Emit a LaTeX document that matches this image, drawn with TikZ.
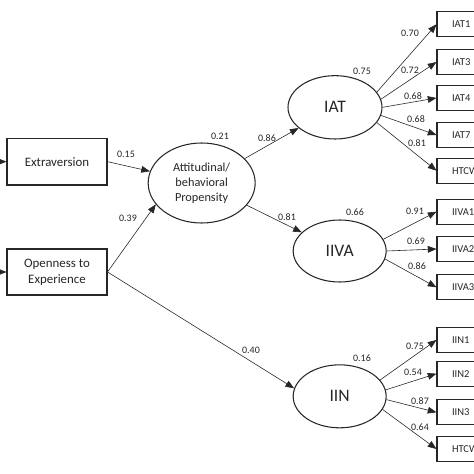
\documentclass[tikz,border=0pt]{standalone}
\usepackage{fontspec}
\setmainfont{Carlito}
\usetikzlibrary{arrows.meta, shapes.geometric}

\begin{document}
\begin{tikzpicture}[line width=0.5pt, color=black!85,
    obs/.style={draw, line width=0.9pt, rectangle, minimum width=3cm, minimum height=1.4cm, align=center, font=\fontsize{11}{13.5}\selectfont},
    ind/.style={draw, line width=0.9pt, rectangle, text width=1.6cm, inner xsep=0.45cm, align=left, minimum height=0.75cm, font=\fontsize{9}{11}\selectfont},
    lat/.style={draw, line width=0.9pt, ellipse, minimum width=2.82cm, minimum height=1.9cm, font=\fontsize{15}{18}\selectfont},
    lbl/.style={font=\fontsize{8.5}{10}\selectfont},
    pth/.style={-{Triangle[length=2.6mm,width=2mm]}}]
    \useasboundingbox (0,0) rectangle (14.22,14.22);

    % Left side - observed predictors
    \node[obs] (extra) at (1.71, 9.37) {Extraversion};
    \node[obs, minimum height=1.38cm] (open) at (1.71, 6.06) {Openness to\\Experience};
    \coordinate (inE) at (-0.5, 9.37);
    \coordinate (inO) at (-0.5, 6.06);
    \draw[pth] (inE) -- (extra);
    \draw[pth] (inO) -- (open);

    % Mediator
    \node[lat, minimum width=3.21cm, minimum height=2.4cm, align=center, font=\fontsize{10.5}{13}\selectfont] (atti) at (6.05, 8.73) {Attitudinal/\\behavioral\\Propensity};

    % Latent outcomes
    \node[lat] (iat) at (10.05, 11.0) {IAT};
    \node[lat, minimum width=2.79cm, minimum height=1.86cm] (iiva) at (10.19, 6.69) {IIVA};
    \node[lat, minimum width=2.79cm, minimum height=1.89cm] (iin) at (10.19, 2.33) {IIN};

    % Indicators (cut by the right edge)
    \node[ind] (iat1) at (14.36, 13.49) {IAT1};
    \node[ind] (iat3) at (14.36, 12.36) {IAT3};
    \node[ind] (iat4) at (14.36, 11.28) {IAT4};
    \node[ind] (iat7) at (14.36, 10.17) {IAT7};
    \node[ind] (htcwA) at (14.36, 9.10) {HTCW};
    \node[ind] (iiva1) at (14.36, 7.87) {IIVA1};
    \node[ind] (iiva2) at (14.36, 6.75) {IIVA2};
    \node[ind] (iiva3) at (14.36, 5.60) {IIVA3};
    \node[ind] (iin1) at (14.36, 4.02) {IIN1};
    \node[ind] (iin2) at (14.36, 3.01) {IIN2};
    \node[ind] (iin3) at (14.36, 1.85) {IIN3};
    \node[ind] (htcwB) at (14.36, 0.75) {HTCW};

    % Structural paths
    \draw[pth] (extra.east) -- (atti);
    \draw[pth] (open.east) -- (atti.205);
    \draw[pth] (open.east) -- (iin.170);
    \draw[pth] (atti) -- (iat);
    \draw[pth] (atti) -- (iiva);

    % Loadings
    \draw[pth] (iat.20) -- (iat1.west);
    \draw[pth] (iat.10) -- (iat3.west);
    \draw[pth] (iat.0) -- (iat4.west);
    \draw[pth] (iat.-10) -- (iat7.west);
    \draw[pth] (iat.-20) -- (htcwA.west);
    \draw[pth] (iiva.15) -- (iiva1.west);
    \draw[pth] (iiva.0) -- (iiva2.west);
    \draw[pth] (iiva.-10) -- (iiva3.west);
    \draw[pth] (iin.22) -- (iin1.west);
    \draw[pth] (iin.8) -- (iin2.west);
    \draw[pth] (iin.-4) -- (iin3.west);
    \draw[pth] (iin.-17) -- (htcwB.west);

    % Coefficients
    \node[lbl] (c15) at (3.78, 9.60) {0.15};
    \node[lbl] (c39) at (3.84, 7.68) {0.39};
    \node[lbl] (c21) at (6.60, 10.14) {0.21};
    \node[lbl] (c86) at (8.01, 10.08) {0.86};
    \node[lbl] (c81) at (8.61, 7.71) {0.81};
    \node[lbl] (c40) at (7.53, 3.72) {0.40};
    \node[lbl] (c75) at (10.86, 12.09) {0.75};
    \node[lbl] (c66) at (10.65, 7.86) {0.66};
    \node[lbl] (c16) at (10.86, 3.48) {0.16};
    \node[lbl] (l70) at (12.30, 13.23) {0.70};
    \node[lbl] (l72) at (12.30, 12.12) {0.72};
    \node[lbl] (l68a) at (12.39, 11.34) {0.68};
    \node[lbl] (l68b) at (12.48, 10.65) {0.68};
    \node[lbl] (l81) at (12.51, 9.93) {0.81};
    \node[lbl] (l91) at (12.45, 7.89) {0.91};
    \node[lbl] (l69) at (12.48, 6.99) {0.69};
    \node[lbl] (l86) at (12.51, 6.24) {0.86};
    \node[lbl] (l75) at (12.45, 3.84) {0.75};
    \node[lbl] (l54) at (12.39, 3.06) {0.54};
    \node[lbl] (l87) at (12.60, 2.19) {0.87};
    \node[lbl] (l64) at (12.60, 1.41) {0.64};
\end{tikzpicture}
\end{document}
